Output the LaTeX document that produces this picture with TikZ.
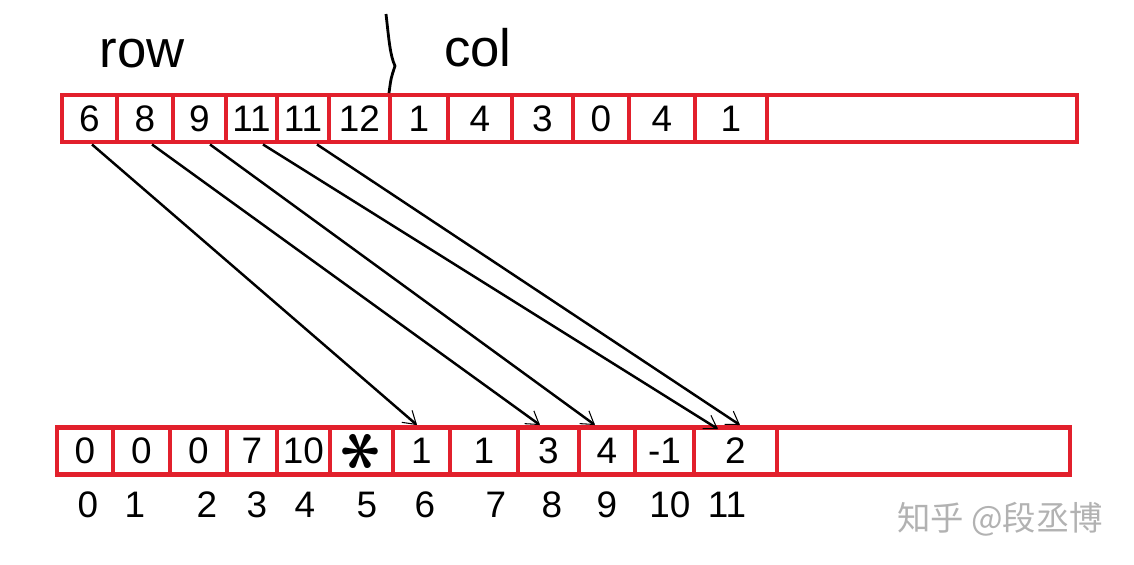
\documentclass[tikz,border=0pt]{standalone}
\usepackage{amsmath}
\usepackage{amssymb}
\usepackage{fontspec}
\setmainfont{Liberation Sans}
\newfontfamily\cjk{Noto Sans CJK SC}
\usepackage{tikz}
\usetikzlibrary{arrows.meta,calc}
\definecolor{cellred}{RGB}{226,32,44}
\definecolor{markgray}{RGB}{178,178,178}

\begin{document}
\begin{tikzpicture}[x=0.02cm,y=-0.02cm,
    cell/.style={draw=cellred,line width=2.8pt,minimum height={47*0.02cm},inner sep=0pt,
      font=\fontsize{21}{21}\selectfont},
    idx/.style={font=\fontsize{21}{21}\selectfont,inner sep=1pt},
    hand/.style={font=\fontsize{30}{30}\selectfont,inner sep=1pt},
    link/.style={line width=1.4pt,-{Straight Barb[length=7pt,width=9pt,line width=0.6pt]}}]
  \useasboundingbox (0,0) rectangle (1134,565);

        % row | col array
        \foreach \l/\r/\v [count=\i from 0] in {62/117/6, 117/173/8, 173/226/9, 226/277/11,
            277/329/11, 329/390/12, 390/448/1, 448/512/4, 512/573/3, 573/629/0,
            629/695/4, 695/767/1, 767/1077/{}}
          \node[cell,minimum width={(\r-\l)*0.02cm}] (t\i) at ({(\l+\r)/2},118.5) {\v};

        % target array
        \foreach \l/\r/\v [count=\i from 0] in {57/113/0, 113/170/0, 170/227/0, 227/277/7,
            277/330/10, 330/393/{\rotatebox{90}{\scalebox{2.2}{$\boldsymbol{\ast}$}}}, 393/450/1,
            450/518/1, 518/579/3, 579/635/4, 635/694/-1, 694/777/2, 777/1070/{}}
          \node[cell,minimum width={(\r-\l)*0.02cm}] (b\i) at ({(\l+\r)/2},451) {\v};

        \foreach \x/\n in {88/0, 135/1, 207/2, 257/3, 305/4, 367/5, 425/6, 496/7,
            552/8, 607/9, 670/10, 727/11}
          \node[idx] (i\n) at (\x,505) {\n};

        \node[hand] (rowlabel) at (142,54) {row};
        \node[hand] (collabel) at (478,48) {col};
        \draw[line width=1.6pt] (386,14) .. controls (389,40) and (390,55) .. (395,66)
          .. controls (391,78) .. (389,93);

        \draw[link] ($(t0.south)+(2.5,0)$) -- ($(b6.north)+(-4.5,0)$);
        \draw[link] ($(t1.south)+(7,0)$) -- ($(b8.north)+(-8.5,0)$);
        \draw[link] ($(t2.south)+(10.5,0)$) -- ($(b9.north)+(-12,0)$);
        \draw[link] ($(t3.south)+(11.5,0)$) -- ($(b11.north)+(-17.5,4)$);
        \draw[link] ($(t4.south)+(14,0)$) -- ($(b11.north)+(4.5,0)$);

        \node[text=markgray,font=\cjk\fontsize{19}{19}\selectfont] (mark) at (1000,519) {知乎 @段丞博};
\end{tikzpicture}
\end{document}
